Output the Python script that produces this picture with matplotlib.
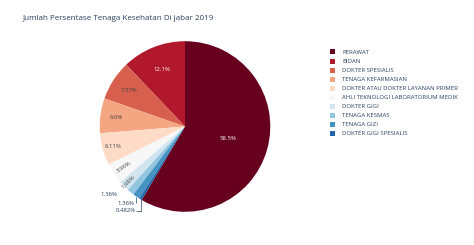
import numpy as np
import matplotlib
matplotlib.use("Agg")
import matplotlib.pyplot as plt
from matplotlib.patches import Rectangle

# ---- data ----
categories = ["PERAWAT", "BIDAN", "DOKTER SPESIALIS", "TENAGA KEFARMASIAN",
              "DOKTER ATAU DOKTER LAYANAN PRIMER", "AHLI TEKNOLOGI LABORATORIUM MEDIK",
              "DOKTER GIGI", "TENAGA KESMAS", "TENAGA GIZI", "DOKTER GIGI SPESIALIS"]
values = [58.5, 12.1, 7.57, 6.6, 6.11, 3.96, 1.98, 1.36, 1.36, 0.482]
pct_labels = ["58.5%", "12.1%", "7.57%", "6.6%", "6.11%", "3.96%", "1.98%",
              "1.36%", "1.36%", "0.482%"]
title = "Jumlah Persentase Tenaga Kesehatan Di jabar 2019"

# ---- style ----
colors = ["#67001f", "#b2182b", "#d6604d", "#f4a582", "#fddbc7",
          "#f7f7f7", "#d1e5f0", "#92c5de", "#4393c3", "#2166ac"]
label_radius = [0.52, 0.72, 0.78, 0.81, 0.88, 0.86, 0.93]   # inside labels
radial_text = [False, False, False, False, False, True, True]
text_color = ["white", "white", "#444444", "#444444", "#444444", "#444444", "#444444"]
# outside labels: (x, y) text anchor offsets in axis units (right aligned)
outside_pos = {7: (-0.79, -0.80), 8: (-0.59, -0.90), 9: (-0.58, -0.985)}
FONT = "Open Sans"
TXT = "#2a3f5f"
FS = 4.3

W, H = 474, 245
fig = plt.figure(figsize=(W / 100, H / 100), dpi=100)
cx, cy, R = 185, 126.5, 82
half = 1.3 * R
ax = fig.add_axes([(cx - half) / W, (H - cy - half) / H, 2 * half / W, 2 * half / H])
ax.set_xlim(-1.3, 1.3)
ax.set_ylim(-1.3, 1.3)
ax.set_aspect("equal")
ax.axis("off")

total = sum(values)
start = 90 - 360 * values[0] / total
wedges, _ = ax.pie(values, colors=colors, startangle=start, counterclock=True,
                   radius=1.0, wedgeprops=dict(linewidth=0))

for i, w in enumerate(wedges):
    mid = np.deg2rad((w.theta1 + w.theta2) / 2)
    if i < len(label_radius):
        r = label_radius[i]
        rot = 0
        if radial_text[i]:
            rot = np.rad2deg(mid) % 180
        ax.text(r * np.cos(mid), r * np.sin(mid), pct_labels[i], ha="center", va="center",
                fontsize=FS, color=text_color[i], family=FONT, rotation=rot,
                rotation_mode="anchor")
    else:
        ex, ey = np.cos(mid), np.sin(mid)
        tx, ty = outside_pos[i]
        ax.text(tx, ty, pct_labels[i], ha="right", va="center", fontsize=FS,
                color=TXT, family=FONT)
        if i != 7:
            ax.plot([ex, ex, tx + 0.01], [ey, ty, ty], color=TXT, lw=0.5,
                    solid_capstyle="butt")

fig.text(23 / W, 1 - 18 / H, title, ha="left", va="center", fontsize=5.8,
         color=TXT, family=FONT)

# legend
lx, ly0, step, sq = 330, 52, 9.03, 5
for i, (cat, col) in enumerate(zip(categories, colors)):
    yy = ly0 + i * step
    fig.patches.append(Rectangle((lx / W, (H - yy - sq / 2) / H), sq / W, sq / H,
                                 transform=fig.transFigure, facecolor=col,
                                 edgecolor="none"))
    fig.text(342 / W, 1 - yy / H, cat, ha="left", va="center", fontsize=FS,
             color=TXT, family=FONT)

fig.savefig("out.png", dpi=100, facecolor="white")
